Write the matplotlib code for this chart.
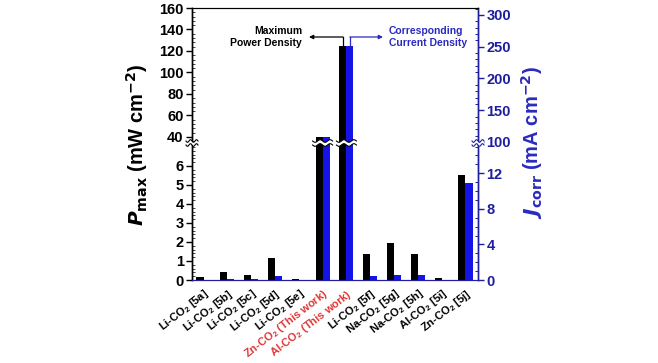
import numpy as np
import matplotlib
matplotlib.use("Agg")
import matplotlib.pyplot as plt
from matplotlib.ticker import MultipleLocator
from matplotlib.lines import Line2D
from matplotlib.patches import Polygon

plt.rcParams['font.family'] = ['Liberation Sans', 'DejaVu Sans']
plt.rcParams['font.weight'] = 'bold'
plt.rcParams['mathtext.default'] = 'regular'

categories = ["Li-CO$_2$ [5a]", "Li-CO$_2$ [5b]", "Li-CO$_2$ [5c]", "Li-CO$_2$ [5d]",
              "Li-CO$_2$ [5e]", "Zn-CO$_2$ (This work)", "Al-CO$_2$ (This work)",
              "Li-CO$_2$ [5f]", "Na-CO$_2$ [5g]", "Na-CO$_2$ [5h]", "Al-CO$_2$ [5i]",
              "Zn-CO$_2$ [5j]"]
highlight = [False, False, False, False, False, True, True, False, False, False, False, False]
p_max = [0.17, 0.44, 0.26, 1.17, 0.05, 39.7, 124.9, 1.37, 1.93, 1.37, 0.1, 5.5]
j_corr = [0.05, 0.15, 0.08, 0.45, 0.02, 108.0, 251.6, 0.5, 0.6, 0.6, 0.02, 10.95]

W, H = 658, 363
fig = plt.figure(figsize=(W / 100, H / 100), dpi=100)

def fx(px):
    return px / W

def fy(py):
    return 1 - py / H

left, right = 192, 478
top, brk, bottom = 8, 143, 280
ax_u = fig.add_axes([fx(left), fy(brk), fx(right) - fx(left), fy(top) - fy(brk)])
ax_l = fig.add_axes([fx(left), fy(bottom), fx(right) - fx(left), fy(brk) - fy(bottom)])
axr_u = ax_u.twinx()
axr_l = ax_l.twinx()

BLACK = '#000000'
BLUE_BAR = '#1414e6'
NAVY = '#1e1e9e'
BLUE_TXT = '#2a2ac0'
RED = '#e03535'

x = np.arange(len(categories))
w = 0.295
for a in (ax_u, ax_l):
    a.bar(x - w / 2, p_max, width=w, color=BLACK, zorder=2)
for a in (axr_u, axr_l):
    a.bar(x + w / 2, j_corr, width=w, color=BLUE_BAR, zorder=2)

for a in (ax_u, ax_l, axr_u, axr_l):
    a.set_xlim(-0.483, 11.525)

ax_u.set_ylim(34.4, 160)
axr_u.set_ylim(98.4, 311)
ax_l.set_ylim(0, 7.21)
axr_l.set_ylim(0, 15.4)

ax_u.yaxis.set_minor_locator(MultipleLocator(4))
axr_u.yaxis.set_minor_locator(MultipleLocator(10))
ax_l.yaxis.set_minor_locator(MultipleLocator(0.2))
axr_l.yaxis.set_minor_locator(MultipleLocator(1))

ax_u.set_yticks([40, 60, 80, 100, 120, 140, 160])
axr_u.set_yticks([100, 150, 200, 250, 300])
ax_l.set_yticks([0, 1, 2, 3, 4, 5, 6])
axr_l.set_yticks([0, 4, 8, 12])

for a in (ax_u, ax_l):
    a.tick_params(axis='y', which='major', direction='out', length=4, width=1,
                  labelsize=10.5, colors=BLACK, pad=2)
    a.tick_params(axis='y', which='minor', direction='in', length=2.5, width=0.7, colors='#444444')
    a.tick_params(axis='x', length=0)
    for lab in a.get_yticklabels():
        lab.set_fontweight('bold')
for a in (axr_u, axr_l):
    a.tick_params(axis='y', which='major', direction='out', length=4, width=1,
                  labelsize=10.5, colors=NAVY, pad=2)
    a.tick_params(axis='y', which='minor', direction='in', length=2.5, width=0.7, colors=NAVY)
    for lab in a.get_yticklabels():
        lab.set_fontweight('bold')

ax_u.set_xticks([])
axr_u.set_xticks([])
ax_l.set_xticks(x)
ax_l.set_xticklabels(categories, rotation=38, ha='right', va='top',
                     rotation_mode='anchor', fontsize=8, fontweight='bold')
for lab, h in zip(ax_l.get_xticklabels(), highlight):
    lab.set_color(RED if h else BLACK)
ax_l.tick_params(axis='x', pad=5)

for a in (ax_u, axr_u):
    a.spines['bottom'].set_visible(False)
for a in (ax_l, axr_l):
    a.spines['top'].set_visible(False)
for a in (ax_u, ax_l, axr_u, axr_l):
    a.spines['left'].set_color(BLACK)
    a.spines['right'].set_color(NAVY)
    a.spines['left'].set_linewidth(1)
    a.spines['right'].set_linewidth(1)
ax_u.spines['top'].set_color('#333333')
ax_l.spines['bottom'].set_color(NAVY)
axr_l.spines['bottom'].set_color(NAVY)

# axis labels
fig.text(fx(137), fy(145), r'$\mathbf{\mathit{P}}_{\mathbf{max}}$ (mW cm$^{\mathbf{-2}}$)',
         rotation=90, ha='center', va='center', fontsize=14.5, fontweight='bold', color=BLACK)
fig.text(fx(532), fy(143), r'$\mathbf{\mathit{J}}_{\mathbf{corr}}$ (mA cm$^{\mathbf{-2}}$)',
         rotation=90, ha='center', va='center', fontsize=14.5, fontweight='bold', color=BLUE_TXT)

# annotations with elbow arrows (figure pixel coords derived from data)
fig.canvas.draw()
def to_px(ax, xv, yv):
    d = ax.transData.transform((xv, yv))
    return d[0], H - d[1]

bx, by = to_px(ax_u, 6 - w / 2, p_max[6])
ux, uy = to_px(axr_u, 6 + w / 2, j_corr[6])
ly = 37
fig.add_artist(Line2D([fx(bx), fx(bx)], [fy(by), fy(ly)], color=BLACK, lw=0.9))
fig.add_artist(Line2D([fx(ux), fx(ux)], [fy(uy), fy(ly)], color=BLUE_TXT, lw=0.9))
ax_u.annotate('', xy=(fx(309), fy(ly)), xycoords='figure fraction',
              xytext=(fx(bx), fy(ly)), textcoords='figure fraction',
              arrowprops=dict(arrowstyle='-|>', color=BLACK, lw=0.9, mutation_scale=6,
                              shrinkA=0, shrinkB=0))
ax_u.annotate('', xy=(fx(383), fy(ly)), xycoords='figure fraction',
              xytext=(fx(ux), fy(ly)), textcoords='figure fraction',
              arrowprops=dict(arrowstyle='-|>', color=BLUE_TXT, lw=0.9, mutation_scale=6,
                              shrinkA=0, shrinkB=0))
fig.text(fx(302), fy(37), 'Maximum\nPower Density', ha='right', va='center',
         multialignment='right', fontsize=7.5, fontweight='bold', color=BLACK, linespacing=1.2)
fig.text(fx(389), fy(37), 'Corresponding\nCurrent Density', ha='left', va='center',
         multialignment='left', fontsize=7.5, fontweight='bold', color=BLUE_TXT, linespacing=1.2)

# break marks
def break_mark(cx, cy, half, color):
    t = np.linspace(-half, half, 40)
    amp = 1.3
    wave = amp * np.sin(2 * np.pi * t / (half * 1.0))
    g = 2.0
    upper = cy - g + wave
    lower = cy + g + wave
    poly = np.column_stack([np.concatenate([t + cx, (t + cx)[::-1]]),
                            np.concatenate([upper, lower[::-1]])])
    poly_f = np.column_stack([fx(poly[:, 0]), fy(poly[:, 1])])
    fig.add_artist(Polygon(poly_f, closed=True, facecolor='white', edgecolor='none', zorder=10))
    fig.add_artist(Line2D(fx(t + cx), fy(upper), color=color, lw=0.8, zorder=11))
    fig.add_artist(Line2D(fx(t + cx), fy(lower), color=color, lw=0.8, zorder=11))

break_mark(left, brk, 6, BLACK)
break_mark(right, brk, 6, NAVY)
for i in (5, 6):
    cx, _ = to_px(ax_l, i, 0)
    break_mark(cx, brk, 10, BLACK)

fig.savefig('out.png', dpi=100)
